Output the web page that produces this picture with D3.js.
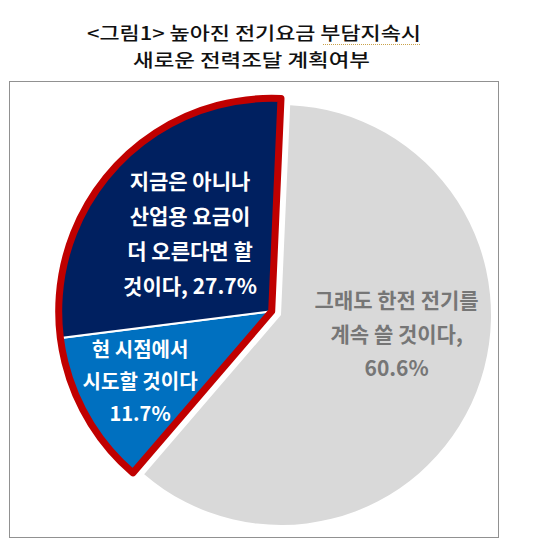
<!DOCTYPE html>
<html>
<head>
<meta charset="utf-8">
<script src="https://cdn.jsdelivr.net/npm/d3@7"></script>
<style>
    html, body { margin: 0; padding: 0; background: #fff; }
    svg { display: block; }
</style>
</head>
<body>
<div id="chart"></div>
<script>
// Data
const categories = [
    '그래도 한전 전기를 계속 쓸 것이다',
    '현 시점에서 시도할 것이다',
    '지금은 아니나 산업용 요금이 더 오른다면 할 것이다',
];
const shares = [60.6, 11.7, 27.7];
const exploded = [false, true, true];
const labelLines = [
    ['그래도 한전 전기를', '계속 쓸 것이다,'],
    ['현 시점에서', '시도할 것이다'],
    ['지금은 아니나', '산업용 요금이', '더 오른다면 할', '것이다,'],
];
const titleLines = ['<그림1> 높아진 전기요금 부담지속시', '새로운 전력조달 계획여부'];

const width = 538, height = 556;
const fontFamily = '"Noto Sans CJK KR", "Noto Sans", sans-serif';
const colors = ['#d9d9d9', '#0070c0', '#002060'];
const textColors = ['#767676', '#ffffff', '#ffffff'];

// layout
const cx = 281, cy = 315;
const radius = 210, explodedRadius = 213, explodeBy = 10;
const rot = 2.5 * Math.PI / 180;
// label placement per slice: distance from centre, angle nudge (deg), font size, line height
const labelLayout = [
    { dist: 117, nudge: -12.8, size: 21, lh: 34 },
    { dist: 148.5, nudge: 0.7, size: 20, lh: 32 },
    { dist: 113.5, nudge: 1.3, size: 21, lh: 35 },
];

const svg = d3.select('#chart').append('svg')
    .attr('width', width).attr('height', height)
    .style('background', '#fff');

// Title
const titleLayout = [
    { x: 87, y: 31.5, len: 334 },
    { x: 133, y: 58.5, len: 237 },
];
svg.selectAll('text.title').data(titleLines).enter()
    .append('text').attr('class', 'title')
    .style('font-family', fontFamily).style('font-weight', 500)
    .attr('fill', '#111').attr('font-size', 18.5)
    .attr('x', (d, i) => titleLayout[i].x)
    .attr('y', (d, i) => titleLayout[i].y)
    .attr('dominant-baseline', 'central')
    .attr('textLength', (d, i) => titleLayout[i].len)
    .attr('lengthAdjust', 'spacingAndGlyphs')
    .text(d => d);
// spell-check squiggle under the last word
svg.append('line')
    .attr('x1', 323).attr('x2', 421).attr('y1', 44.5).attr('y2', 44.5)
    .attr('stroke', '#c9a24a').attr('stroke-width', 1).attr('stroke-dasharray', '1,1');

// Dotted frame
svg.append('rect')
    .attr('x', 9.5).attr('y', 81.5).attr('width', 489).attr('height', 456)
    .attr('fill', 'none').attr('stroke', '#222').attr('stroke-width', 1)
    .attr('stroke-dasharray', '1,1');

// Pie
const pie = d3.pie().sort(null).value(d => d)
    .startAngle(rot).endAngle(rot + 2 * Math.PI);
const arcs = pie(shares);

const arc = d3.arc().innerRadius(0)
    .outerRadius(d => exploded[d.index] ? explodedRadius : radius);

const groupStart = d3.min(arcs.filter(d => exploded[d.index]), d => d.startAngle);
const groupEnd = d3.max(arcs.filter(d => exploded[d.index]), d => d.endAngle);
const groupMid = (groupStart + groupEnd) / 2;
const dx = explodeBy * Math.sin(groupMid), dy = -explodeBy * Math.cos(groupMid);

const pieG = svg.append('g').attr('transform', `translate(${cx},${cy})`);

const slices = pieG.selectAll('g.slice').data(arcs).enter()
    .append('g').attr('class', 'slice')
    .attr('transform', d => exploded[d.index] ? `translate(${dx},${dy})` : null);

slices.append('path')
    .attr('d', arc)
    .attr('fill', d => colors[d.index])
    .attr('stroke', d => exploded[d.index] ? '#fff' : 'none')
    .attr('stroke-width', 2);

// red outline round the exploded group
pieG.append('path')
    .attr('transform', `translate(${dx},${dy})`)
    .attr('d', d3.arc().innerRadius(0).outerRadius(explodedRadius)
        .startAngle(groupStart).endAngle(groupEnd)())
    .attr('fill', 'none')
    .attr('stroke', '#c00000').attr('stroke-width', 7)
    .attr('stroke-linejoin', 'round');

// Labels
pieG.selectAll('text.label').data(arcs).enter()
    .append('text').attr('class', 'label')
    .style('font-family', fontFamily).style('font-weight', 700)
    .attr('text-anchor', 'middle')
    .attr('fill', d => textColors[d.index])
    .attr('font-size', d => labelLayout[d.index].size)
    .each(function (d) {
        const L = labelLayout[d.index];
        const a = (d.startAngle + d.endAngle) / 2 + L.nudge * Math.PI / 180;
        const ox = exploded[d.index] ? dx : 0, oy = exploded[d.index] ? dy : 0;
        const x = ox + L.dist * Math.sin(a), y = oy - L.dist * Math.cos(a);
        const pct = d3.format('.1f')(d.value) + '%';
        const lines = labelLines[d.index].slice();
        if (d.index === 2) lines[lines.length - 1] += ' ' + pct;
        else lines.push(pct);
        const n = lines.length;
        d3.select(this).selectAll('tspan').data(lines).enter()
            .append('tspan')
            .attr('x', x)
            .attr('y', (t, i) => y + (i - (n - 1) / 2) * L.lh)
            .attr('dominant-baseline', 'central')
            .text(t => t);
    });
</script>
</body>
</html>
